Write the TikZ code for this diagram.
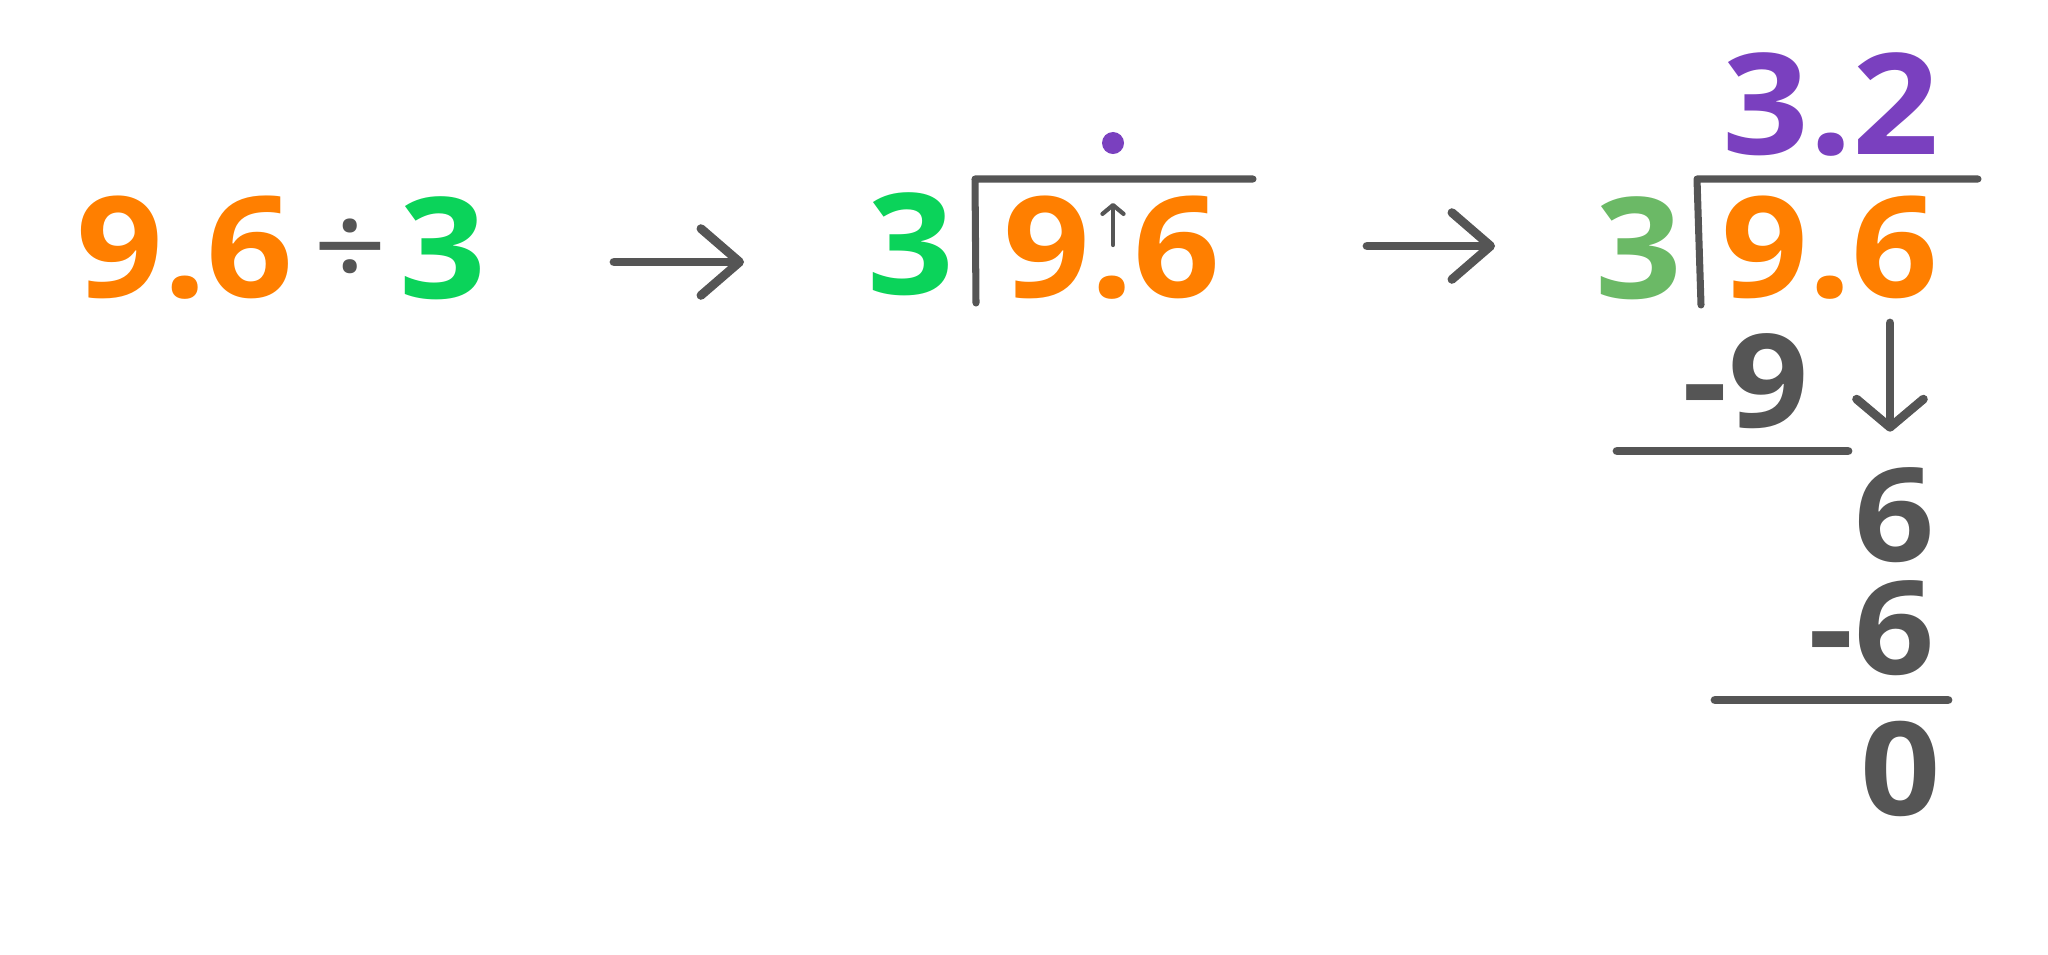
\documentclass[tikz,border=0pt]{standalone}
\usepackage{fontspec}
\setmainfont{Open Sans}[FakeStretch=1.08]
\usetikzlibrary{arrows.meta}
\definecolor{orng}{HTML}{FF7F00}
\definecolor{grn}{HTML}{0BD35A}
\definecolor{lgrn}{HTML}{6BB966}
\definecolor{purp}{HTML}{7A40BF}
\definecolor{gry}{HTML}{555555}
\begin{document}
\begin{tikzpicture}[x=0.01cm, y=-0.01cm,
	num/.style={inner sep=0pt, font=\fontsize{40}{40}\selectfont\bfseries},
	smallnum/.style={inner sep=0pt, text=gry, font=\fontsize{37}{37}\selectfont\bfseries},
	bar/.style={draw=gry, line width=2.5pt, line cap=round, line join=round},
	chev/.style={bar, -{Straight Barb[length=11pt, width=19pt, round]}},
	]
	\useasboundingbox (0,0) rectangle (2048,954);
	\node[num, text=orng] (eqdividend) at (185,248) {9.6};
	\node[num, text=gry, font=\fontsize{34}{34}\selectfont] (eqsign) at (350,254) {÷};
	\node[num, text=grn] (eqdivisor) at (443,248) {3};
	\coordinate (arrowAs) at (614,262);
	\coordinate (arrowAe) at (744,262);
	\draw[chev] (arrowAs) -- (arrowAe);
	\node[num, text=grn] (middivisor) at (911,244) {3};
	\draw[bar, line width=2pt] (976,303) -- (975,179) -- (1253,179);
	\node[num, text=orng] (middividend) at (1112,248) {9.6};
	\fill[purp] (1113,143) circle[radius=0.11cm];
	\coordinate (uparrows) at (1113,245);
	\coordinate (uparrowe) at (1113,203);
	\draw[bar, line width=1.2pt, -{Straight Barb[length=2.5pt, width=6pt, round]}] (uparrows) -- (uparrowe);
	\coordinate (arrowBs) at (1367,246);
	\coordinate (arrowBe) at (1495,246);
	\draw[chev] (arrowBs) -- (arrowBe);
	\node[num, text=purp] (quotient) at (1831,104) {3.2};
	\node[num, text=lgrn] (rightdivisor) at (1639,248) {3};
	\draw[bar, line width=2pt] (1701,305) -- (1697,179) -- (1978,179);
	\node[num, text=orng] (rightdividend) at (1830,248) {9.6};
	\node[smallnum, anchor=east] (sub1) at (1809,381) {-9};
	\coordinate (bringdown) at (1890,323);
	\node[smallnum] (rem1) at (1895,515) {6};
	\draw[bar, -{Straight Barb[length=8pt, width=19pt, round]}, shorten >=0.35cm] (bringdown) -- (rem1.north -| bringdown);
	\draw[bar] (1617,451) -- (1848,451);
	\node[smallnum, anchor=east] (sub2) at (1935,628) {-6};
	\draw[bar] (1715,700) -- (1948,700);
	\node[smallnum] (rem2) at (1901,769) {0};
\end{tikzpicture}
\end{document}
